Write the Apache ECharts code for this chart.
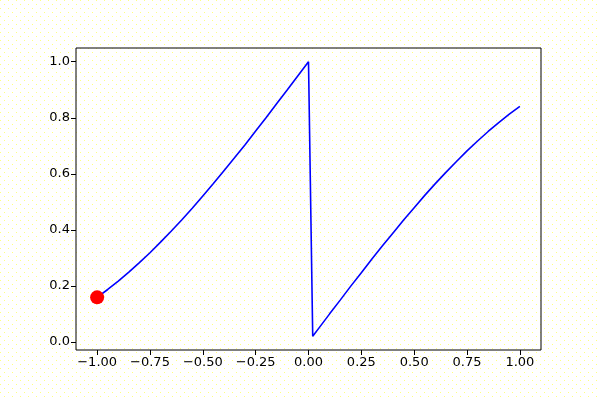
<!DOCTYPE html>
<html>
<head>
<meta charset="utf-8">
<script src="https://cdn.jsdelivr.net/npm/echarts@6/dist/echarts.min.js"></script>
<style>
  html, body { margin: 0; padding: 0; }
  body {
    background-color: #ffffff;
    background-image: url("data:image/svg+xml,%3Csvg xmlns='http://www.w3.org/2000/svg' width='8' height='8' shape-rendering='crispEdges'%3E%3Crect x='0' y='0' width='1' height='1' fill='%23ffff80'/%3E%3Crect x='4' y='4' width='1' height='1' fill='%23ffff80'/%3E%3C/svg%3E");
    background-size: 8px 8px;
  }
  #chart { width: 600px; height: 400px; }
</style>
</head>
<body>
<div id="chart"></div>
<script>
// curve samples
const xs = [-1, -0.95, -0.9, -0.85, -0.8, -0.75, -0.7, -0.65, -0.6, -0.55, -0.5,
  -0.45, -0.4, -0.35, -0.3, -0.25, -0.2, -0.15, -0.1, -0.05, 0,
  0.02, 0.05, 0.1, 0.15, 0.2, 0.25, 0.3, 0.35, 0.4, 0.45, 0.5,
  0.55, 0.6, 0.65, 0.7, 0.75, 0.8, 0.85, 0.9, 0.95, 1];
const ys = [0.159, 0.187, 0.217, 0.249, 0.283, 0.318, 0.356, 0.395, 0.435, 0.477, 0.521,
  0.565, 0.611, 0.657, 0.704, 0.753, 0.801, 0.851, 0.900, 0.950, 1.0,
  0.02, 0.05, 0.10, 0.149, 0.199, 0.247, 0.296, 0.343, 0.389, 0.435, 0.479,
  0.523, 0.565, 0.605, 0.644, 0.682, 0.717, 0.751, 0.783, 0.813, 0.841];

// moving marker
const markerX = -1;
const markerY = 0.159;

const xTicks = [-1, -0.75, -0.5, -0.25, 0, 0.25, 0.5, 0.75, 1];
const yTicks = [0, 0.2, 0.4, 0.6, 0.8, 1.0];

const fmt = (v, d) => v.toFixed(d).replace('-', '\u2212');

const chart = echarts.init(document.getElementById('chart'));

const axisCommon = {
  type: 'value',
  splitLine: { show: false },
  axisLine: { show: false, onZero: false },
  axisTick: { show: true, inside: false, length: 5, lineStyle: { color: '#000', width: 1 } },
  axisLabel: { color: '#000', fontFamily: 'DejaVu Sans', fontSize: 13, margin: 6 }
};

chart.setOption({
  backgroundColor: 'transparent',
  animation: false,
  grid: {
    left: 76, right: 59, top: 48, bottom: 50,
    show: true, borderColor: '#000', borderWidth: 1, backgroundColor: 'transparent'
  },
  xAxis: Object.assign({}, axisCommon, {
    min: -1.1, max: 1.1,
    axisTick: Object.assign({}, axisCommon.axisTick, { customValues: xTicks }),
    axisLabel: Object.assign({}, axisCommon.axisLabel, {
      customValues: xTicks,
      formatter: v => fmt(v, 2)
    })
  }),
  yAxis: Object.assign({}, axisCommon, {
    min: -0.029, max: 1.049,
    axisTick: Object.assign({}, axisCommon.axisTick, { customValues: yTicks }),
    axisLabel: Object.assign({}, axisCommon.axisLabel, {
      customValues: yTicks,
      formatter: v => fmt(v, 1)
    })
  }),
  series: [
    {
      type: 'line',
      data: xs.map((x, i) => [x, ys[i]]),
      showSymbol: false,
      lineStyle: { color: '#0000ff', width: 1.6 },
      z: 2
    },
    {
      type: 'scatter',
      data: [[markerX, markerY]],
      symbolSize: 14,
      itemStyle: { color: '#ff0000', opacity: 1 },
      z: 3
    }
  ]
});
</script>
</body>
</html>
